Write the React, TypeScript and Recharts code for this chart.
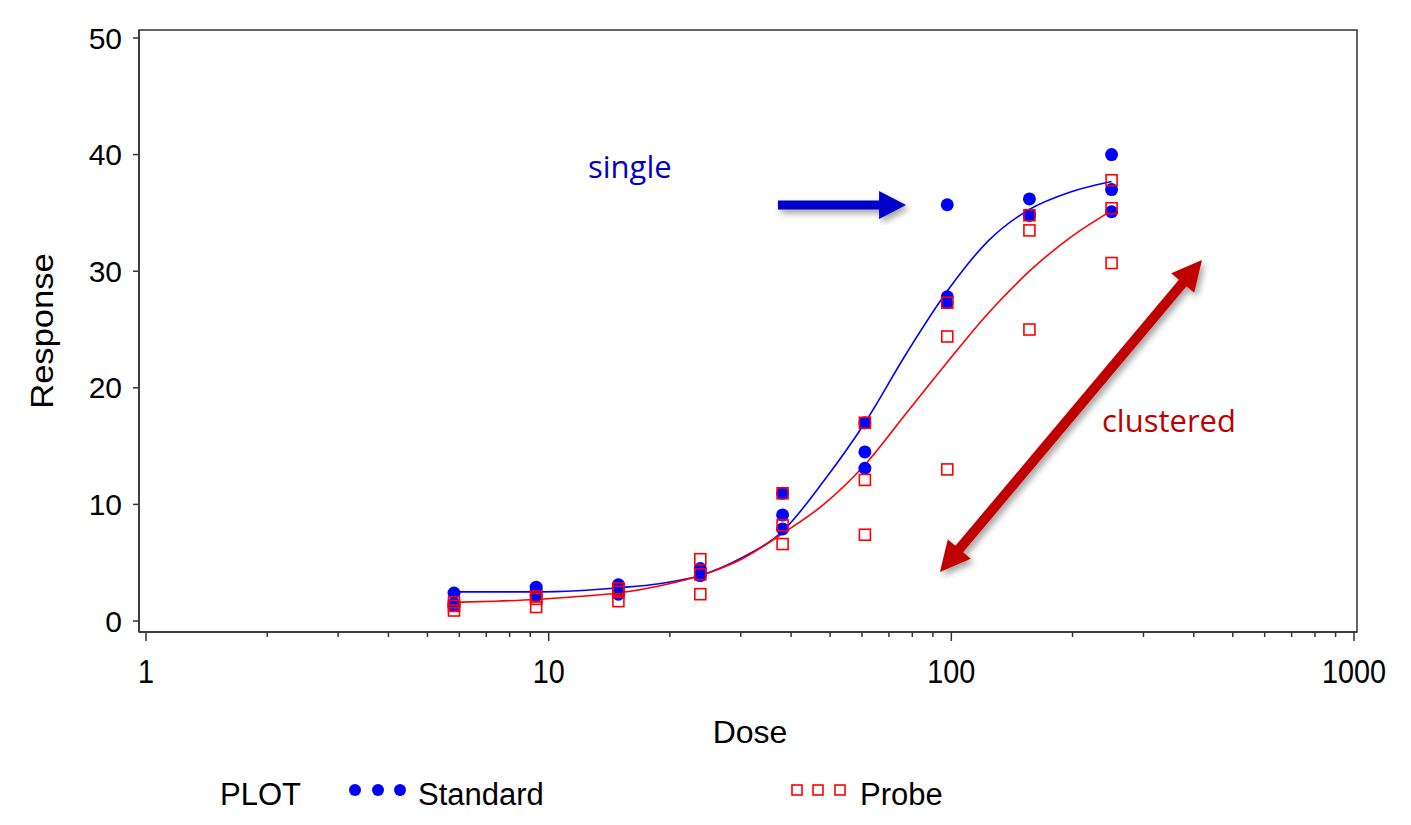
import React from 'react';
import {
  ComposedChart,
  Line,
  Scatter,
  XAxis,
  YAxis,
  ReferenceArea,
  ReferenceLine,
  ReferenceDot,
} from 'recharts';

// ---- data -------------------------------------------------------------
const doses = [5.82, 9.31, 14.9, 23.8, 38.1, 61.0, 97.7, 156.3, 250];

// three replicate responses per dose
const standardRep1 = [2.4, 2.9, 3.1, 4.5, 10.95, 17.0, 35.7, 36.2, 40.0];
const standardRep2 = [1.5, 2.6, 2.7, 4.2, 9.1, 14.5, 27.8, 34.8, 37.0];
const standardRep3 = [1.3, 2.2, 2.3, 3.9, 7.9, 13.1, 27.3, 34.8, 35.1];

const probeRep1 = [1.6, 2.1, 2.8, 5.3, 10.95, 17.0, 27.3, 34.8, 37.8];
const probeRep2 = [1.3, 1.9, 2.5, 4.0, 8.2, 12.1, 24.4, 33.5, 35.4];
const probeRep3 = [0.9, 1.2, 1.7, 2.3, 6.6, 7.4, 13.0, 25.0, 30.7];

// fitted dose-response curves
const fitDoses = [5.82, 7.36, 9.31, 11.8, 14.9, 18.8, 23.8, 30.1, 38.1, 48.2, 61.0, 77.2, 97.7, 123.5, 156.3, 197.6, 250];
const standardFit = [2.5, 2.5, 2.5, 2.6, 2.85, 3.2, 3.9, 5.4, 7.7, 12.0, 17.0, 22.9, 28.3, 32.6, 35.3, 36.8, 37.7];
const probeFit = [1.6, 1.7, 1.85, 2.1, 2.4, 3.0, 3.9, 5.3, 7.5, 10.0, 13.4, 17.8, 22.2, 26.4, 30.0, 32.9, 35.2];

// axes
const xMajorTicks = [1, 10, 100, 1000];
const xMinorSteps = [2, 3, 4, 5, 6, 7, 8, 9];
const yTicks = [0, 10, 20, 30, 40, 50];
const xDomain: [number, number] = [0.9608, 1017.3];
const yDomain: [number, number] = [-0.943, 50.686];

// annotations
const singleArrow = [{ x: 37.1, y: 35.68 }, { x: 77.2, y: 35.68 }];
const clusteredArrow = [{ x: 93.7, y: 4.2 }, { x: 419.3, y: 30.96 }];
const singleLabel = { x: 12.52, y: 38.0, text: 'single' };
const clusteredLabel = { x: 236.7, y: 16.2, text: 'clustered' };

// ---- derived tables ---------------------------------------------------
const toPoints = (reps: number[][]) =>
  reps.flatMap((rep) => rep.map((value, i) => ({ dose: doses[i], value })));

const standardPoints = toPoints([standardRep1, standardRep2, standardRep3]);
const probePoints = toPoints([probeRep1, probeRep2, probeRep3]);
const standardCurve = fitDoses.map((dose, i) => ({ dose, value: standardFit[i] }));
const probeCurve = fitDoses.map((dose, i) => ({ dose, value: probeFit[i] }));

const xTicks: number[] = [];
xMajorTicks.forEach((m, i) => {
  xTicks.push(m);
  if (i < xMajorTicks.length - 1) xMinorSteps.forEach((s) => xTicks.push(m * s));
});

// ---- styling ----------------------------------------------------------
const FONT = '"Liberation Sans", Arial, Helvetica, sans-serif';
const NOTE_FONT = '"Open Sans", "Noto Sans", sans-serif';
const AXIS = '#333333';
const BLUE = '#0000FF';
const RED = '#FF0000';
const NOTE_BLUE = '#0000C8';
const NOTE_RED = '#C00000';

const Y_AXIS_W = 70;
const X_AXIS_H = 60;

const XTick = (props: any) => {
  const { x, y, payload } = props;
  const v = payload.value;
  const major = xMajorTicks.includes(v);
  return (
    <g>
      <line x1={x} y1={y} x2={x} y2={y + (major ? 9 : 5)} stroke={AXIS} strokeWidth={1.5} />
      {major && (
        <text
          x={0}
          y={0}
          transform={`translate(${x},${y + 51}) scale(0.93,1.1)`}
          textAnchor="middle"
          fontSize={31}
          fontFamily={FONT}
          fill="#000"
        >
          {v}
        </text>
      )}
    </g>
  );
};

const CircleMark = (props: any) => <circle cx={props.cx} cy={props.cy} r={6.5} fill={BLUE} />;
const SquareMark = (props: any) => (
  <rect x={props.cx - 5.5} y={props.cy - 5.5} width={11} height={11} fill="none" stroke={RED} strokeWidth={1.6} />
);

// solid block arrow with a soft drop shadow
const makeArrow = (color: string, id: string, shaft: number, headLen: number, headW: number, double: boolean) =>
  (p: any) => {
    const { x1, y1, x2, y2 } = p;
    const len = Math.hypot(x2 - x1, y2 - y1);
    const ux = (x2 - x1) / len;
    const uy = (y2 - y1) / len;
    const nx = -uy;
    const ny = ux;
    const pt = (bx: number, by: number, along: number, side: number) =>
      `${bx + ux * along + nx * side},${by + uy * along + ny * side}`;
    const pts: string[] = [];
    if (double) {
      pts.push(pt(x1, y1, 0, 0));
      pts.push(pt(x1, y1, headLen, headW / 2));
      pts.push(pt(x1, y1, headLen, shaft / 2));
    } else {
      pts.push(pt(x1, y1, 0, shaft / 2));
    }
    pts.push(pt(x2, y2, -headLen, shaft / 2));
    pts.push(pt(x2, y2, -headLen, headW / 2));
    pts.push(pt(x2, y2, 0, 0));
    pts.push(pt(x2, y2, -headLen, -headW / 2));
    pts.push(pt(x2, y2, -headLen, -shaft / 2));
    if (double) {
      pts.push(pt(x1, y1, headLen, -shaft / 2));
      pts.push(pt(x1, y1, headLen, -headW / 2));
    } else {
      pts.push(pt(x1, y1, 0, -shaft / 2));
    }
    return (
      <g>
        <defs>
          <filter id={id} x="-20%" y="-20%" width="140%" height="140%">
            <feDropShadow dx={3} dy={4} stdDeviation={3} floodColor="#000" floodOpacity={0.35} />
          </filter>
        </defs>
        <polygon points={pts.join(' ')} fill={color} filter={`url(#${id})`} />
      </g>
    );
  };

const makeNote = (text: string, color: string) => (p: any) => (
  <text x={p.cx} y={p.cy} fontSize={31} fontFamily={NOTE_FONT} fill={color}>
    {text}
  </text>
);

export default function App() {
  return (
    <div style={{ position: 'absolute', left: 0, top: 0, width: 1411, height: 825, background: '#fff' }}>
      <ComposedChart
        width={1411}
        height={825}
        margin={{ top: 30, right: 54, left: 139 - Y_AXIS_W, bottom: 193 - X_AXIS_H }}
      >
        <XAxis
          dataKey="dose"
          type="number"
          scale="log"
          domain={xDomain}
          allowDataOverflow
          ticks={xTicks}
          interval={0}
          tick={<XTick />}
          tickLine={false}
          tickSize={0}
          tickMargin={0}
          height={X_AXIS_H}
          axisLine={{ stroke: AXIS, strokeWidth: 1.5 }}
        />
        <YAxis
          dataKey="value"
          type="number"
          domain={yDomain}
          allowDataOverflow
          ticks={yTicks}
          interval={0}
          width={Y_AXIS_W}
          tickSize={6}
          tickMargin={11}
          tickLine={{ stroke: AXIS, strokeWidth: 1.5 }}
          axisLine={{ stroke: AXIS, strokeWidth: 1.5 }}
          tick={{ fill: '#000', fontSize: 30, fontFamily: FONT }}
        />
        <ReferenceArea
          x1={xDomain[0]}
          x2={xDomain[1]}
          y1={yDomain[0]}
          y2={yDomain[1]}
          fill="none"
          fillOpacity={0}
          stroke={AXIS}
          strokeWidth={1.5}
          ifOverflow="visible"
        />
        <Line data={standardCurve} dataKey="value" type="monotone" stroke={BLUE} strokeWidth={1.6} dot={false} isAnimationActive={false} />
        <Line data={probeCurve} dataKey="value" type="monotone" stroke={RED} strokeWidth={1.6} dot={false} isAnimationActive={false} />
        <Scatter data={standardPoints} dataKey="value" shape={<CircleMark />} isAnimationActive={false} />
        <Scatter data={probePoints} dataKey="value" shape={<SquareMark />} isAnimationActive={false} />
        <ReferenceLine
          segment={singleArrow}
          ifOverflow="visible"
          shape={makeArrow(NOTE_BLUE, 'shadowSingle', 9, 27, 28, false)}
        />
        <ReferenceLine
          segment={clusteredArrow}
          ifOverflow="visible"
          shape={makeArrow(NOTE_RED, 'shadowClustered', 10, 30, 30, true)}
        />
        <ReferenceDot x={singleLabel.x} y={singleLabel.y} r={0} ifOverflow="visible" shape={makeNote(singleLabel.text, NOTE_BLUE)} />
        <ReferenceDot x={clusteredLabel.x} y={clusteredLabel.y} r={0} ifOverflow="visible" shape={makeNote(clusteredLabel.text, NOTE_RED)} />
      </ComposedChart>
      <svg
        width={1411}
        height={825}
        style={{ position: 'absolute', left: 0, top: 0, pointerEvents: 'none' }}
      >
        <text x={750} y={743} textAnchor="middle" fontSize={32} fontFamily={FONT} fill="#000">
          Dose
        </text>
        <text
          x={0}
          y={0}
          transform="translate(53,331) rotate(-90) scale(1.08,1)"
          textAnchor="middle"
          fontSize={32}
          fontFamily={FONT}
          fill="#000"
        >
          Response
        </text>
        <text x={220} y={805} fontSize={31} fontFamily={FONT} fill="#000">
          PLOT
        </text>
        {[355, 378, 400].map((cx) => (
          <circle key={cx} cx={cx} cy={790} r={6} fill={BLUE} />
        ))}
        <text x={418} y={805} fontSize={31} fontFamily={FONT} fill="#000">
          Standard
        </text>
        {[797, 818, 840].map((cx) => (
          <rect key={cx} x={cx - 5} y={785} width={10} height={10} fill="none" stroke={RED} strokeWidth={1.6} />
        ))}
        <text x={860} y={805} fontSize={31} fontFamily={FONT} fill="#000">
          Probe
        </text>
      </svg>
    </div>
  );
}
